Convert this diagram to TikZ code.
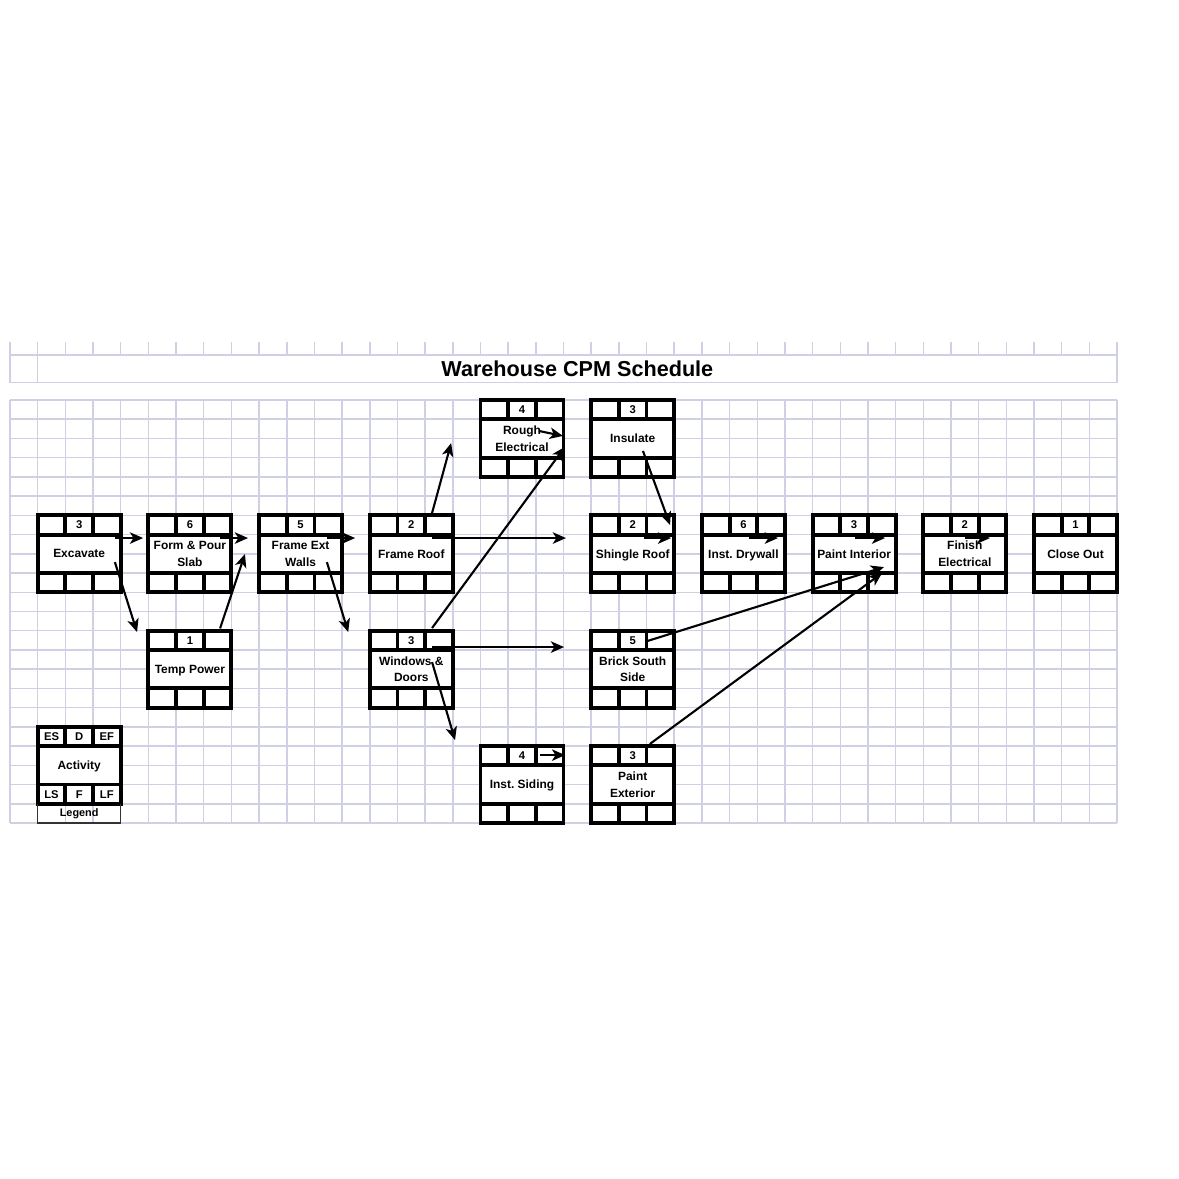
\documentclass[tikz,border=0pt]{standalone}
\usepackage{fontspec}
\setmainfont{Liberation Sans}
\usepackage{tikz}
\usetikzlibrary{arrows.meta, positioning}

\definecolor{gridline}{RGB}{208,208,228}
\frenchspacing

\begin{document}
\begin{tikzpicture}[
    x=0.5535cm, y=-0.38454cm,
    gridl/.style={draw=gridline, line width=0.85pt},
    actbox/.style={rectangle, draw, fill=white, line width=2.2pt, minimum width=1.6605cm, minimum height=1.53816cm, inner sep=0pt, text depth=0pt, align=center, font=\fontsize{6.8}{9.6}\selectfont\bfseries},
    cell/.style={line width=2.2pt},
    num/.style={inner sep=0pt, font=\fontsize{6.4}{7}\selectfont\bfseries},
    title/.style={inner sep=0pt, font=\fontsize{12.3}{14}\selectfont\bfseries},
    arrow/.style={-{Stealth[length=7.5pt, width=6.5pt, inset=2pt]}, line width=1.2pt}
]
    \useasboundingbox (-0.3613,-20.804) rectangle (42.239,40.515);

    % Header
    \foreach \i in {0,...,40} \draw[gridl] (\i,-3.02) -- (\i,-2.34);
    \draw[gridl] (0,-2.34) -- (40,-2.34) (0,-0.9) -- (40,-0.9);
    \draw[gridl] (0,-3.02) -- (0,-0.9) (1,-3.02) -- (1,-0.9) (40,-3.02) -- (40,-0.9);
    \node[title] (title) at (20.5,-1.62) {Warehouse CPM Schedule};

    % Grid
    \foreach \i in {0,...,40} \draw[gridl] (\i,0) -- (\i,22);
    \foreach \j in {0,...,22} \draw[gridl] (0,\j) -- (40,\j);

    % Activities
    \foreach \n/\c/\r/\d/\t in {
        exc/1/6/3/Excavate,
        fps/5/6/6/{Form \& Pour\\Slab},
        few/9/6/5/{Frame Ext\\Walls},
        frf/13/6/2/Frame Roof,
        rel/17/0/4/{Rough\\Electrical},
        ins/21/0/3/Insulate,
        shr/21/6/2/Shingle Roof,
        dry/25/6/6/Inst. Drywall,
        pti/29/6/3/Paint Interior,
        fel/33/6/2/{Finish\\Electrical},
        clo/37/6/1/Close Out,
        tmp/5/12/1/Temp Power,
        wnd/13/12/3/{Windows \&\\Doors},
        brk/21/12/5/{Brick South\\Side},
        sid/17/18/4/Inst. Siding,
        pex/21/18/3/{Paint\\Exterior}} {
        \node[actbox] (\n) at (\c+1.5,\r+2) {\t};
        \draw[cell] (\c,\r+1) -- ++(3,0) (\c,\r+3) -- ++(3,0);
        \draw[cell] (\c+1,\r) -- ++(0,1) (\c+2,\r) -- ++(0,1);
        \draw[cell] (\c+1,\r+3) -- ++(0,1) (\c+2,\r+3) -- ++(0,1);
        \node[num] (\n-d) at (\c+1.5,\r+0.5) {\d};
    }

    % Legend
    \node[actbox] (legend) at (2.5,19) {Activity};
    \draw[cell] (1,18) -- ++(3,0) (1,20) -- ++(3,0);
    \draw[cell] (2,17) -- ++(0,1) (3,17) -- ++(0,1);
    \draw[cell] (2,20) -- ++(0,1) (3,20) -- ++(0,1);
    \node[num] (es) at (1.5,17.5) {ES};
    \node[num] (d) at (2.5,17.5) {D};
    \node[num] (ef) at (3.5,17.5) {EF};
    \node[num] (ls) at (1.5,20.5) {LS};
    \node[num] (f) at (2.5,20.5) {F};
    \node[num] (lf) at (3.5,20.5) {LF};
    \draw[line width=0.8pt, draw=black!80] (1,21) -- (1,22) -- (4,22) -- (4,21);
    \node[num, font=\fontsize{6.2}{7}\selectfont\bfseries] (legend-l) at (2.5,21.5) {Legend};

    % Arrows
    \draw[arrow] ([shift={(-0.28,1.28)}]exc.north east) -- ([shift={(-0.12,1.28)}]fps.north west);
    \draw[arrow] ([shift={(-0.28,0.43)}]exc.east) -- ([shift={(-0.34,0.17)}]tmp.north west);
    \draw[arrow] ([shift={(-0.48,1.28)}]fps.north east) -- ([shift={(-0.33,1.28)}]few.north west);
    \draw[arrow] ([shift={(-0.48,-0.02)}]tmp.north east) -- ([shift={(0.42,0.01)}]fps.east);
    \draw[arrow] ([shift={(-0.62,1.28)}]few.north east) -- ([shift={(-0.46,1.28)}]frf.north west);
    \draw[arrow] ([shift={(-0.62,0.43)}]few.east) -- ([shift={(-0.71,0.17)}]wnd.north west);
    \draw[arrow] ([shift={(-0.82,-0.02)}]frf.north east) -- ([shift={(-0.99,0.24)}]rel.west);
    \draw[arrow] ([shift={(-0.82,1.28)}]frf.north east) -- ([shift={(-0.84,1.28)}]shr.north west);
    \draw[arrow] ([shift={(-0.82,-0.04)}]wnd.north east) -- ([shift={(-0.02,0.44)}]rel.east);
    \draw[arrow] ([shift={(-0.96,-0.39)}]rel.east) -- ([shift={(-0.95,-0.13)}]ins.west);
    \draw[arrow] ([shift={(-1.2,0.65)}]ins.east) -- ([shift={(-0.22,0.6)}]shr.north east);
    \draw[arrow] ([shift={(-1.16,1.28)}]shr.north east) -- ([shift={(-1.04,1.28)}]dry.north west);
    \draw[arrow] ([shift={(-1.37,1.28)}]dry.north east) -- ([shift={(-1.18,1.28)}]pti.north west);
    \draw[arrow] ([shift={(-1.54,1.28)}]pti.north east) -- ([shift={(-1.31,1.28)}]fel.north west);
    \draw[arrow] ([shift={(-1.56,1.28)}]fel.north east) -- ([shift={(-1.52,1.28)}]clo.north west);
    \draw[arrow] ([shift={(-0.82,0.95)}]wnd.north east) -- ([shift={(-0.91,0.95)}]brk.north west);
    \draw[arrow] ([shift={(-0.82,-0.37)}]wnd.east) -- ([shift={(-0.85,-0.21)}]sid.north west);
    \draw[arrow] ([shift={(-0.92,0.57)}]sid.north east) -- ([shift={(-0.87,0.57)}]pex.north west);
    \draw[arrow] ([shift={(-1.05,0.64)}]brk.north east) -- ([shift={(-0.49,0.69)}]pti.east);
    \draw[arrow] ([shift={(-0.95,-0.01)}]pex.north east) -- ([shift={(-0.56,1.0)}]pti.east);
\end{tikzpicture}
\end{document}
